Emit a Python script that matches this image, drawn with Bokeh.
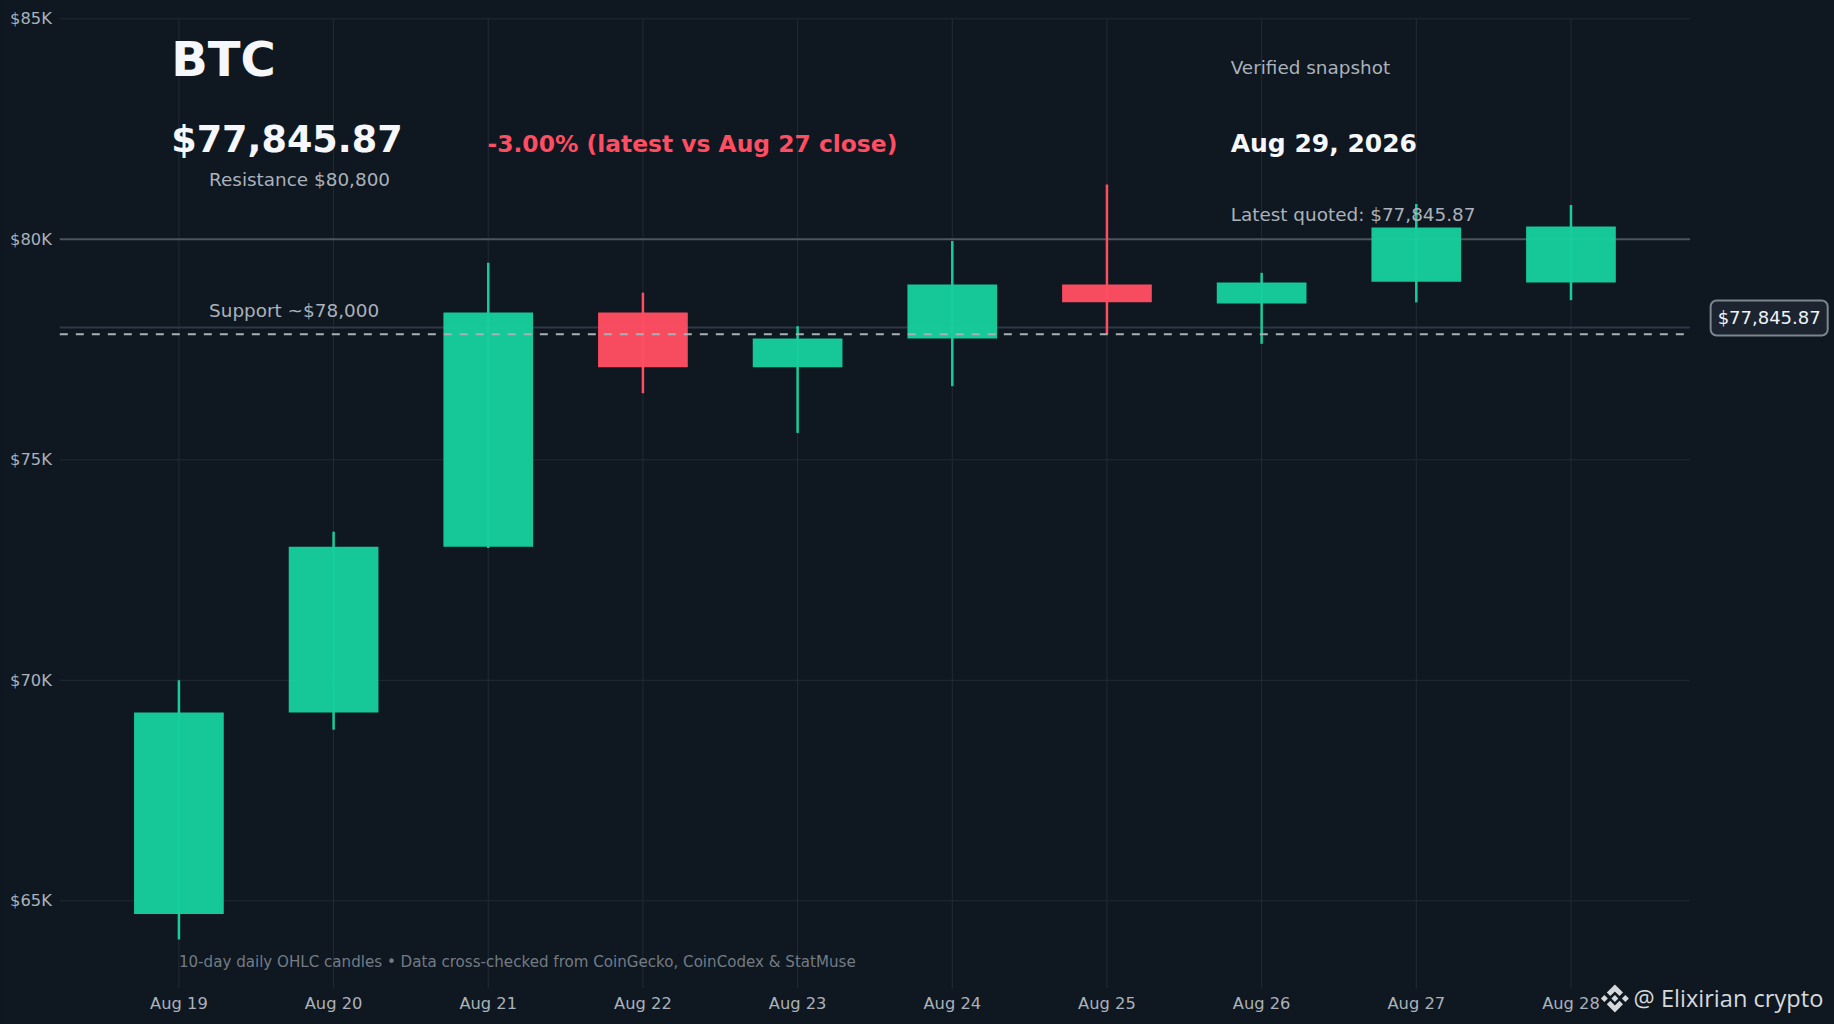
from bokeh.plotting import figure
from bokeh.embed import file_html
from bokeh.resources import INLINE
from bokeh.models import Label, FixedTicker, Range1d
from bokeh.core.properties import value

days = ["Aug 19", "Aug 20", "Aug 21", "Aug 22", "Aug 23", "Aug 24", "Aug 25", "Aug 26", "Aug 27", "Aug 28"]
opens = [64700, 69270, 73030, 78340, 77100, 77750, 78975, 78545, 79040, 79020]
closes = [69270, 73030, 78340, 77100, 77750, 78975, 78570, 79020, 80270, 80290]
highs = [70000, 73370, 79470, 78790, 78030, 79960, 81240, 79240, 80800, 80780]
lows = [64120, 68880, 73000, 76510, 75610, 76670, 77850, 77630, 78570, 78620]
latest = 77845.87
support = 78000
resistance_line = 80000
y_ticks = [65000, 70000, 75000, 80000, 85000]
y_labels = ["$65K", "$70K", "$75K", "$80K", "$85K"]

BG = "#0f1720"
UP = "#17cd9c"
DOWN = "#ff4d62"
GRID = "#222b35"
MUTED = "#aab2bb"
FONT = "DejaVu Sans"

XL, XR, YB, YT = -0.77, 9.77, 63020, 85000

x = list(range(len(days)))
p = figure(width=1834, height=1024, output_backend="svg", toolbar_location=None,
           x_range=Range1d(-1.1535, 10.7038), y_range=Range1d(62195, 85415),
           background_fill_color=BG, border_fill_color=BG,
           min_border_left=0, min_border_right=0, min_border_top=0, min_border_bottom=0)
p.outline_line_color = None
p.grid.visible = False

p.xaxis.fixed_location = YB
p.yaxis.fixed_location = XL
p.xaxis.ticker = FixedTicker(ticks=x)
p.xaxis.major_label_overrides = {i: d for i, d in enumerate(days)}
p.yaxis.ticker = FixedTicker(ticks=y_ticks)
p.yaxis.major_label_overrides = dict(zip(y_ticks, y_labels))
for ax in (p.xaxis, p.yaxis):
    ax.axis_line_color = None
    ax.major_tick_line_color = None
    ax.minor_tick_line_color = None
    ax.major_label_text_color = MUTED
    ax.major_label_text_font = FONT
    ax.major_label_text_font_size = "16.3px"
p.xaxis.major_label_standoff = 0
p.yaxis.major_label_standoff = 2

p.segment(x, [YB] * len(x), x, [YT] * len(x), line_color=GRID, line_width=1)
p.segment([XL] * len(y_ticks), y_ticks, [XR] * len(y_ticks), y_ticks, line_color=GRID, line_width=1)
p.segment([XL], [resistance_line], [XR], [resistance_line], line_color="#4b5560", line_width=2)
p.segment([XL], [support], [XR], [support], line_color="#2f3843", line_width=2)

colors = [UP if c >= o else DOWN for o, c in zip(opens, closes)]
p.segment(x, lows, x, highs, line_color=colors, line_width=2.5)
p.vbar(x=x, width=0.58, bottom=[min(a, b) for a, b in zip(opens, closes)],
       top=[max(a, b) for a, b in zip(opens, closes)], fill_color=colors, fill_alpha=0.97, line_color=None)
p.segment([XL], [latest], [9.74], [latest], line_color="#a9b0b6", line_width=2, line_dash="8 8")

def txt(xv, yv, s, size, color, bold=False, font=FONT):
    p.text([xv], [yv], text=[s], text_color=color, text_font=value(font), text_font_size=size,
           text_font_style="bold" if bold else "normal", text_baseline="alphabetic", text_align="left")

txt(-0.05, 84098, "BTC", "48px", "#f5f7fa", True)
txt(-0.05, 82263, "$77,845.87", "36.6px", "#f5f7fa", True)
txt(1.995, 82170, "-3.00% (latest vs Aug 27 close)", "23.4px", DOWN, True)
txt(0.195, 81366, "Resistance $80,800", "18.4px", MUTED)
txt(0.195, 78380, "Support ~$78,000", "18.4px", MUTED)
txt(6.8, 83885, "Verified snapshot", "18.4px", MUTED)
txt(6.8, 82177, "Aug 29, 2026", "25px", "#f5f7fa", True)
txt(6.8, 80559, "Latest quoted: $77,845.87", "18.4px", MUTED)
txt(0.0, 63620, "10-day daily OHLC candles • Data cross-checked from CoinGecko, CoinCodex & StatMuse", "15.1px", "#737c85")
txt(9.405, 62799, "@ Elixirian crypto", "23.6px", "#d5d9dd", False, "Open Sans")

p.add_layout(Label(x=9.903, y=78217, text="$77,845.87", text_font=FONT, text_font_size="18px", text_color="#f0f3f6",
                   text_baseline="middle", text_align="left", background_fill_color="#1c2430",
                   border_line_color="#7b868f", border_line_width=2, border_radius=6, padding=7))

# Binance-style logo mark next to the watermark
cx, cy, rx, ry = 9.284, 62785, 0.0905, 317
shapes = [
    [(0, .25), (.25, 0), (0, -.25), (-.25, 0)],
    [(-.75, .25), (-.5, 0), (-.75, -.25), (-1, 0)],
    [(.75, .25), (1, 0), (.75, -.25), (.5, 0)],
    [(0, 1), (.58, .42), (.33, .17), (0, .5), (-.33, .17), (-.58, .42)],
    [(0, -1), (.58, -.42), (.33, -.17), (0, -.5), (-.33, -.17), (-.58, -.42)],
]
p.patches([[cx + rx * a for a, b in s] for s in shapes], [[cy + ry * b for a, b in s] for s in shapes],
          fill_color="#d5d9dd", line_color=None)

html = file_html(p, INLINE).replace("<body>", '<body style="background:#0f1720">')
open("out.html", "w").write(html)
